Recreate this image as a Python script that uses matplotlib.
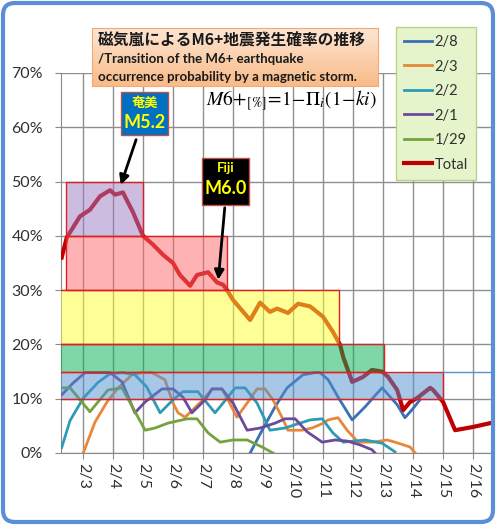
import numpy as np
import matplotlib.pyplot as plt
from matplotlib.patches import Rectangle, FancyBboxPatch
from matplotlib.colors import LinearSegmentedColormap

plt.rcParams['font.family'] = ['Lato', 'Noto Sans CJK JP', 'DejaVu Sans']

# x = day of February, y = probability in %
days = list(range(3, 17))
day_labels = [f'2/{d}' for d in days]
pct_ticks = [0, 10, 20, 30, 40, 50, 60, 70]

total_x = [2.29, 2.46, 2.9, 3.23, 3.57, 3.9, 4.07, 4.33, 4.67, 5.0, 5.33, 5.67, 6.0,
           6.23, 6.57, 6.8, 7.17, 7.47, 7.67, 7.8, 8.0, 8.57, 8.9, 9.23, 9.47, 9.83,
           10.17, 10.57, 11.0, 11.33, 11.57, 11.67, 11.97, 12.33, 12.63, 12.97, 13.17,
           13.47, 13.67, 13.9, 14.13, 14.57, 14.67, 15.0, 15.4, 16.0, 16.57]
total_y = [36, 39.7, 43.6, 44.8, 47.3, 48.4, 47.6, 48.0, 44.3, 40.0, 38.4, 36.5, 35.0,
           32.8, 30.8, 32.8, 33.3, 31.4, 31.0, 30.0, 28.2, 24.5, 27.7, 26.0, 26.6, 25.8,
           27.5, 27.0, 25.1, 22.3, 19.9, 17.7, 13.1, 14.0, 15.3, 15.0, 14.0,
           11.6, 7.9, 9.4, 10.1, 12.0, 11.6, 9.4, 4.2, 4.8, 5.5]

s0208_x = [8.57, 8.97, 9.4, 9.8, 10.13, 10.33, 10.73, 10.9, 11.17, 11.5, 11.97, 12.4,
           12.8, 12.97, 13.13, 13.47, 13.73, 13.97, 14.23]
s0208_y = [0, 4.2, 8.5, 12, 13.5, 14.4, 14.8, 14.8, 13.5, 10.3, 6.1, 8.5,
           11, 12, 11, 8.9, 6.5, 8.0, 9.8]

s0203_x = [3.01, 3.4, 3.8, 4.17, 4.63, 4.97, 5.3, 5.73, 6.0, 6.17, 6.4, 6.67, 7.0, 7.3,
           7.63, 7.83, 8.13, 8.47, 8.8, 9.07, 9.33, 9.63, 9.83, 10.3, 10.63, 10.97,
           11.17, 11.5, 11.8, 12.17, 12.67, 13.13, 13.4, 13.9, 14.07]
s0203_y = [0, 5.7, 9.4, 12, 14.4, 14.8, 14.8, 13.5, 9.2, 7.4, 6.6, 8.0, 9.8, 11.8,
           11.8, 9.8, 6.6, 9.2, 11.8, 11.8, 9.8, 6.6, 4.2, 4.2, 4.6, 5.4,
           6.1, 6.5, 4.2, 2.0, 2.0, 2.4, 2.0, 1.1, 0]

s0202_x = [2.29, 2.57, 3.01, 3.5, 3.9, 4.33, 4.73, 5.12, 5.57, 6.0, 6.33, 6.83, 7.0,
           7.4, 7.8, 8.07, 8.4, 8.8, 9.23, 9.73, 10.23, 10.57, 10.97, 11.33, 11.67,
           12.4, 12.97, 13.4]
s0202_y = [1, 6, 10.1, 13, 14.6, 14.8, 14.4, 12.2, 7.4, 9.8, 11.3, 11.3, 10.1,
           7.4, 10.1, 12, 12, 9.2, 4.2, 4.6, 5.5, 6.1, 6.3, 3.7, 2.0,
           2.4, 1.8, 0.2]

s0201_x = [2.29, 2.67, 3.07, 3.5, 3.9, 4.3, 4.73, 5.07, 5.63, 6.0, 6.33, 6.63, 7.07,
           7.3, 7.63, 8.0, 8.47, 8.9, 9.4, 9.73, 10.07, 10.47, 10.97, 11.4, 11.8,
           12.23, 12.63, 12.73]
s0201_y = [10.7, 12.9, 14.8, 14.8, 14.8, 13.1, 7.4, 9.4, 11.8, 11.8, 10.3, 7.4, 9.8,
           11.8, 11.8, 9.2, 4.2, 4.6, 5.5, 6.3, 6.3, 3.9, 2.0, 2.4, 2.2,
           1.5, 0.6, 0]

s0129_x = [2.29, 2.57, 2.9, 3.23, 3.83, 4.3, 5.07, 5.4, 5.83, 6.47, 6.8, 7.17, 7.57,
           8.0, 8.47, 8.97, 9.33]
s0129_y = [12, 12, 9.8, 7.6, 11.6, 12, 4.2, 4.6, 5.5, 6.3, 6.3, 3.7, 2.0,
           2.4, 2.4, 1.1, 0]

# shaded probability zones
zone_x0 = [2.42, 2.42, 2.2, 2.2, 2.2]
zone_x1 = [5.0, 7.8, 11.53, 13.03, 15.0]
zone_y0 = [40, 30, 20, 15, 10]
zone_y1 = [50, 40, 30, 20, 15]
zone_colors = ['#9b7bc1', '#ff676b', '#ffff33', '#01b151', '#5191d1']

fig = plt.figure(figsize=(4.96, 5.25), dpi=100)
ax = fig.add_axes([61 / 496, 1 - 453 / 525, (492 - 61) / 496, (453 - 73) / 525])
ax.set_xlim(2.267, 16.63)
ax.set_ylim(0, 70)

ax.set_axisbelow(True)
ax.grid(True, color='#8f8f8f', lw=1)
for side in ['top', 'right']:
    ax.spines[side].set_visible(False)
for side in ['left', 'bottom']:
    ax.spines[side].set_color('#8a8a8a')

ax.set_xticks(days)
ax.set_xticklabels(day_labels, rotation=270, fontsize=11.5, color='#303030')
ax.set_yticks(pct_ticks)
ax.set_yticklabels([f'{p}%' for p in pct_ticks], fontsize=11.5, color='#303030')
ax.tick_params(length=4, color='#8a8a8a')
ax.tick_params(axis='y', pad=9)

series = [
    ('2/8', s0208_x, s0208_y, '#3b6fb6'),
    ('2/3', s0203_x, s0203_y, '#e8873a'),
    ('2/2', s0202_x, s0202_y, '#2e9bb5'),
    ('2/1', s0201_x, s0201_y, '#6a4a9c'),
    ('1/29', s0129_x, s0129_y, '#74a33c'),
]
handles = []
for name, xs, ys, col in series:
    h, = ax.plot(xs, ys, color=col, lw=2, label=name, zorder=3)
    handles.append(h)
h, = ax.plot(total_x, total_y, color='#c00000', lw=3, label='Total', zorder=4)
handles.append(h)

for x0, x1, y0, y1, c in zip(zone_x0, zone_x1, zone_y0, zone_y1, zone_colors):
    ax.add_patch(Rectangle((x0, y0), x1 - x0, y1 - y0, facecolor=c, alpha=0.5,
                           edgecolor='none', zorder=5))
    ax.add_patch(Rectangle((x0, y0), x1 - x0, y1 - y0, facecolor='none',
                           edgecolor='#e02020', lw=1, zorder=6))
ax.plot([zone_x1[-1], 16.63], [zone_y1[-1], zone_y1[-1]], color='#5b8fd0', lw=1,
        zorder=6, clip_on=False)

leg = ax.legend(handles=handles, loc='upper left',
                bbox_to_anchor=(396 / 496, 1 - 27 / 525), bbox_transform=fig.transFigure,
                borderaxespad=0, fontsize=10.5, handlelength=1.9, handletextpad=0.2,
                labelspacing=0.72, borderpad=0.55, fancybox=False, framealpha=1,
                facecolor='#e6f4cc', edgecolor='#b8d38c')
leg.set_zorder(10)
for t in leg.get_texts():
    t.set_color('#303030')

# title box with gradient
tax = fig.add_axes([92 / 496, 1 - 86 / 525, 286 / 496, 58 / 525])
grad = np.linspace(0, 1, 64).reshape(-1, 1)
cmap = LinearSegmentedColormap.from_list('peach', ['#fde6d4', '#f9bb88'])
tax.imshow(grad, extent=[0, 1, 0, 1], aspect='auto', cmap=cmap, origin='upper')
tax.set_xticks([])
tax.set_yticks([])
for s in tax.spines.values():
    s.set_color('#f2a972')
tax.text(0.02, 0.78, '磁気嵐によるM6+地震発生確率の推移', fontsize=11.3, fontweight='bold',
         family=['Noto Sans CJK JP'], va='center', color='#1a1a1a')
tax.text(0.02, 0.47, '/Transition of the M6+ earthquake', fontsize=9.5,
         fontweight='bold', va='center', color='#1a1a1a')
tax.text(0.02, 0.15, 'occurrence probability by a magnetic storm.', fontsize=9.5,
         fontweight='bold', va='center', color='#1a1a1a')

fig.text(291 / 496, 1 - 101 / 525, r'$M6\!+\!_{[\%]}\!=\!1\!-\!\Pi_{i}(1\!-\!ki)$',
         fontsize=14, math_fontfamily='stix', ha='center', va='center')

# event boxes
def event_box(x0, y0, w, h, face, top, bottom):
    fig.add_artist(Rectangle((x0 / 496, 1 - (y0 + h) / 525), w / 496, h / 525,
                             transform=fig.transFigure, facecolor=face,
                             edgecolor='#c0504d', lw=1, zorder=20))
    fig.text((x0 + w / 2) / 496, 1 - (y0 + 10) / 525, top, fontsize=9.5,
             fontweight='bold', color='#ffff00', ha='center', va='center', zorder=21)
    fig.text((x0 + w / 2) / 496, 1 - (y0 + 31) / 525, bottom, fontsize=13,
             fontweight='bold', color='#ffff00', ha='center', va='center', zorder=21)

event_box(121, 92, 47, 43, '#0070c0', '奄美', 'M5.2')
event_box(202, 158, 47, 47, '#000000', 'Fiji', 'M6.0')

arrow = dict(arrowstyle='-|>', color='black', lw=2, mutation_scale=14)
ax.annotate('', xy=(4.23, 48.9), xytext=(137, 525 - 137), textcoords='figure pixels',
            arrowprops=arrow, zorder=12)
ax.annotate('', xy=(7.5, 31.4), xytext=(225, 525 - 205), textcoords='figure pixels',
            arrowprops=arrow, zorder=12)

# rounded outer frame
fig.add_artist(FancyBboxPatch((0.03, 0.03), 4.9, 5.19, boxstyle='round,pad=0,rounding_size=0.12',
                              transform=fig.dpi_scale_trans, facecolor='none',
                              edgecolor='#5a8ed8', lw=3, zorder=30))

fig.savefig('out.png', dpi=100)
